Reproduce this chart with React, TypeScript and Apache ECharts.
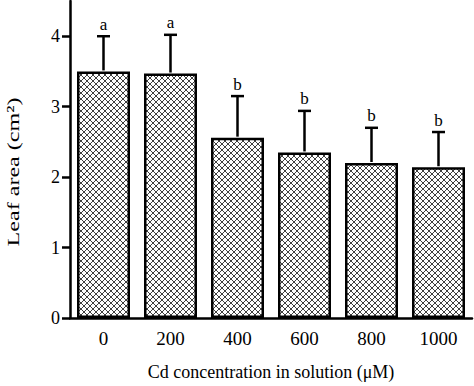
import React, { useEffect, useRef } from "react";
import * as echarts from "echarts";

const categories = ["0", "200", "400", "600", "800", "1000"];
const means = [3.5, 3.47, 2.56, 2.35, 2.2, 2.14];
const upper = [4.0, 4.02, 3.15, 2.94, 2.7, 2.64];
const letters = ["a", "a", "b", "b", "b", "b"];
const yTicks = [0, 1, 2, 3, 4];
const yTitle = "Leaf area (cm\u00b2)";
const xTitle = "Cd concentration in solution (\u03bcM)";

function makeHatch(): HTMLCanvasElement {
  const s = 6;
  const c = document.createElement("canvas");
  c.width = s;
  c.height = s;
  const ctx = c.getContext("2d")!;
  ctx.fillStyle = "#ffffff";
  ctx.fillRect(0, 0, s, s);
  ctx.strokeStyle = "#2a2a2a";
  ctx.lineWidth = 0.9;
  ctx.beginPath();
  ctx.moveTo(-1, -1);
  ctx.lineTo(s + 1, s + 1);
  ctx.moveTo(-1, s + 1);
  ctx.lineTo(s + 1, -1);
  ctx.stroke();
  return c;
}

export default function App() {
  const ref = useRef<HTMLDivElement>(null);
  useEffect(() => {
    if (!ref.current) return;
    const chart = echarts.init(ref.current, null, { renderer: "svg" });
    const font = "'Liberation Serif', 'Times New Roman', serif";
    const hatch = makeHatch();
    const mc = document.createElement("canvas").getContext("2d")!;
    mc.font = `17px ${font}`;
    const w = mc.measureText(yTitle).width || 109;
    const stretch = 149 / w;
    chart.setOption({
      animation: false,
      backgroundColor: "#ffffff",
      grid: { left: 70, right: 2, top: 1, bottom: 63, containLabel: false },
      graphic: [
        {
          type: "text",
          x: 13,
          y: 172,
          rotation: Math.PI / 2,
          scaleX: stretch,
          style: {
            text: yTitle,
            fill: "#000",
            font: `17px ${font}`,
            align: "center",
            verticalAlign: "middle",
          },
        },
      ],
      xAxis: {
        type: "category",
        data: categories,
        boundaryGap: true,
        axisLine: { lineStyle: { color: "#000", width: 2.5 } },
        axisTick: { alignWithLabel: true, length: 7, lineStyle: { color: "#000", width: 2.5 } },
        axisLabel: { color: "#000", fontFamily: font, fontSize: 19, margin: 11 },
        name: xTitle,
        nameLocation: "middle",
        nameGap: 45,
        nameTextStyle: { color: "#000", fontFamily: font, fontSize: 18 },
      },
      yAxis: {
        type: "value",
        min: 0,
        max: 4.5,
        interval: 1,
        splitLine: { show: false },
        axisLine: { show: true, lineStyle: { color: "#000", width: 2.5 } },
        axisTick: { show: true, length: 8, customValues: yTicks, lineStyle: { color: "#000", width: 2.5 } },
        axisLabel: { color: "#000", fontFamily: font, fontSize: 18, margin: 10, customValues: yTicks },
      },
      series: [
        {
          type: "bar",
          data: means,
          barWidth: 53,
          itemStyle: {
            color: { image: hatch, repeat: "repeat", imageWidth: 6, imageHeight: 6 },
            borderColor: "#000",
            borderWidth: 2.5,
          },
          z: 2,
        },
        {
          type: "custom",
          data: means.map((m, i) => [i, m, upper[i]]),
          z: 3,
          renderItem: (params: any, api: any) => {
            const i = api.value(0);
            const top = api.coord([i, api.value(1)]);
            const up = api.coord([i, api.value(2)]);
            const half = 6.5;
            return {
              type: "group",
              children: [
                {
                  type: "line",
                  shape: { x1: top[0], y1: top[1] - 1, x2: up[0], y2: up[1] },
                  style: { stroke: "#000", lineWidth: 2.5 },
                },
                {
                  type: "line",
                  shape: { x1: up[0] - half, y1: up[1], x2: up[0] + half, y2: up[1] },
                  style: { stroke: "#000", lineWidth: 2.5 },
                },
                {
                  type: "text",
                  x: up[0],
                  y: up[1] - 12,
                  style: {
                    text: letters[params.dataIndex],
                    fill: "#000",
                    font: `17px ${font}`,
                    align: "center",
                    verticalAlign: "middle",
                  },
                },
              ],
            };
          },
        },
      ],
    });
    return () => chart.dispose();
  }, []);
  return <div ref={ref} style={{ width: 474, height: 386, position: "absolute", left: 0, top: 0 }} />;
}
